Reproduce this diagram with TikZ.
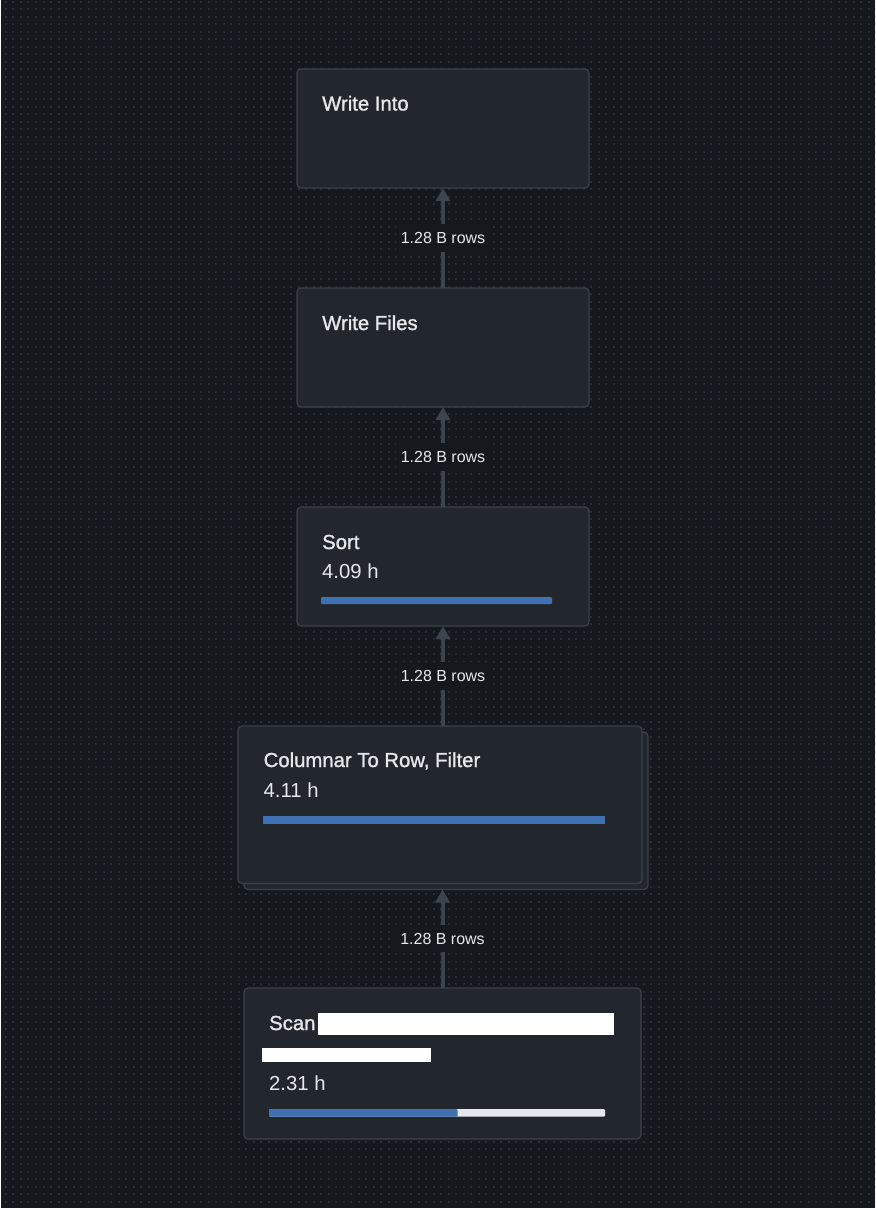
\documentclass[tikz,border=0pt]{standalone}
\usepackage{fontspec}
\setmainfont{Liberation Sans}
\newfontfamily\medfont[FakeBold=1.2]{Liberation Sans}
\usetikzlibrary{arrows.meta, positioning}

\definecolor{canvas}{RGB}{21,25,30}
\definecolor{griddot}{RGB}{40,46,56}
\definecolor{boxfill}{RGB}{34,38,45}
\definecolor{boxline}{RGB}{60,66,75}
\definecolor{edgeline}{RGB}{60,68,78}
\definecolor{txt}{RGB}{230,232,235}
\definecolor{barblue}{RGB}{62,112,178}
\definecolor{bartrack}{RGB}{228,231,235}

\tikzstyle{dotrow} = [line width=2pt, draw=griddot, dash pattern=on 2pt off 5.5pt, dash phase=3.5pt]
\tikzstyle{opbox} = [rectangle, rounded corners=4pt, draw=boxline, fill=boxfill, line width=1.2pt, inner sep=0pt, outer sep=0pt]
\tikzstyle{optitle} = [anchor=base west, inner sep=0pt, text=txt, font=\medfont\fontsize{20.3}{24}\selectfont]
\tikzstyle{optime} = [anchor=base west, inner sep=0pt, text=txt, font=\fontsize{20.3}{24}\selectfont]
\tikzstyle{rowcount} = [fill=canvas, text=txt, inner xsep=5pt, inner ysep=8pt, font=\fontsize{16}{19}\selectfont]
\tikzstyle{arrow} = [line width=4pt, draw=edgeline, -{Triangle[width=14pt,length=13pt]}]

\begin{document}
\begin{tikzpicture}[x=1pt, y=-1pt]
% background with dot grid
\fill[canvas] (0,0) rectangle (874,1208);
\foreach \r in {0,...,160}
  \draw[dotrow] (0,{1.7+7.5*\r}) -- (874,{1.7+7.5*\r});

% operator boxes
\node (into) [opbox, minimum width=292pt, minimum height=119pt] at (442,128.5) {};
\node (files) [opbox, minimum width=292pt, minimum height=119pt, below=100pt of into] {};
\node (sort) [opbox, minimum width=292pt, minimum height=119pt, below=100pt of files] {};
\node (c2rback) [opbox, minimum width=404pt, minimum height=157.5pt, below=106pt of sort, xshift=3pt] {};
\node (c2r) [opbox, minimum width=404pt, minimum height=157.5pt, below=100pt of sort, xshift=-3pt] {};
\node (scan) [opbox, minimum width=397pt, minimum height=151pt, below=98.5pt of c2rback, xshift=-3.5pt] {};

% texts
\node (intoname) [optitle] at ([shift={(25pt,-41.5pt)}]into.north west) {Write Into};
\node (filesname) [optitle] at ([shift={(25pt,-42pt)}]files.north west) {Write Files};
\node (sortname) [optitle] at ([shift={(25pt,-42pt)}]sort.north west) {Sort};
\node (sorttime) [optime] at ([shift={(25pt,-71pt)}]sort.north west) {4.09 h};
\node (c2rname) [optitle] at ([shift={(25.5pt,-41pt)}]c2r.north west) {Columnar To Row, Filter};
\node (c2rtime) [optime] at ([shift={(25.5pt,-71pt)}]c2r.north west) {4.11 h};
\node (scanname) [optitle] at ([shift={(25pt,-42pt)}]scan.north west) {Scan};
\node (scantime) [optime] at ([shift={(25pt,-102pt)}]scan.north west) {2.31 h};

% time bars
\fill[barblue, rounded corners=1pt] (320,597) rectangle (551,604);
\fill[barblue] (262,816) rectangle (604,823.5);
\fill[bartrack, rounded corners=1pt] (268,1109) rectangle (604,1116.5);
\fill[barblue, rounded corners=1pt] (268,1109) rectangle (456.5,1116.5);

% redacted table name
\fill[white] (317,1013) rectangle (613,1035);
\fill[white] (261,1048) rectangle (430,1062);

% edges
\draw [arrow] (files) -- node[rowcount] {1.28 B rows} (into);
\draw [arrow] (sort) -- node[rowcount] {1.28 B rows} (files);
\draw [arrow] (c2r.north -| sort.south) -- node[rowcount] {1.28 B rows} (sort.south);
\draw [arrow] (scan.north) -- node[rowcount] {1.28 B rows} (scan.north |- c2rback.south);
\end{tikzpicture}
\end{document}
